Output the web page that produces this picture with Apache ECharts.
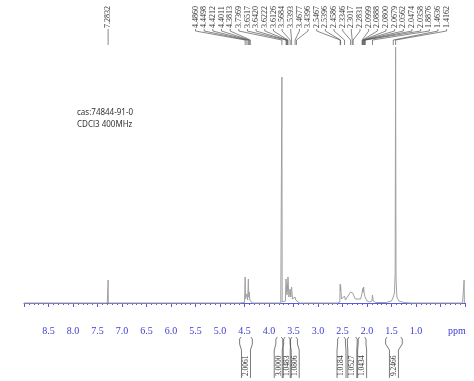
<!DOCTYPE html>
<html><head><meta charset="utf-8">
<script src="https://cdn.jsdelivr.net/npm/echarts@6/dist/echarts.min.js"></script>
<style>html,body{margin:0;padding:0;background:#fff}#c{width:474px;height:381px}</style>
</head><body><div id="c"></div>
<script>
// Spectrum trace (ppm, intensity)
const specPpm = [9.0, 7.30, 7.287, 7.2832, 7.279, 4.60, 4.50, 4.492, 4.486, 4.480, 4.4498, 4.435, 4.4212, 4.412, 4.4011, 4.392, 4.3813, 4.37, 4.34,
  3.76, 3.742, 3.7369, 3.731, 3.70, 3.665, 3.6517, 3.647, 3.6420, 3.632, 3.6222, 3.618, 3.6126, 3.595, 3.5684, 3.555, 3.5393, 3.52, 3.4677, 3.455, 3.4396, 3.42, 3.38,
  2.60, 2.555, 2.5467, 2.543, 2.5396, 2.52, 2.50, 2.4586, 2.44, 2.40, 2.3346, 2.318, 2.3017, 2.292, 2.2831, 2.24, 2.20,
  2.13, 2.0999, 2.094, 2.0888, 2.084, 2.0800, 2.074, 2.0679, 2.062, 2.0562, 2.051, 2.0474, 2.041, 2.0358, 2.00, 1.95, 1.90, 1.8876, 1.875, 1.82,
  1.60, 1.50, 1.4636, 1.44, 1.425, 1.4162, 1.408, 1.39, 1.35, 1.25, 1.10, 0.05, 0.025, 0.018, 0.012, 0.0];
const specInt = [0, 0, 0, 23, 0, 0, 0.5, 2, 26, 4, 9, 3, 24, 6, 11, 3, 5, 1, 0,
  0, 1, 226, 1, 0.5, 2, 24, 10, 18, 8, 20, 12, 26, 6, 14, 6, 16, 4, 6, 3, 5, 1, 0,
  0, 1, 19, 12, 18, 4, 3, 7, 3, 4, 11, 9, 12, 10, 11, 4, 3,
  4, 10, 8, 14, 11, 15, 11, 16, 11, 13, 9, 10, 6, 7, 2, 1, 2, 8, 2, 0.5,
  0.5, 2, 6, 10, 30, 256, 25, 6, 2, 0.5, 0, 0, 0, 23, 0, 0];

// Peak picking labels
const peakLabels = [7.2832, 4.4860, 4.4498, 4.4212, 4.4011, 4.3813, 3.7369, 3.6517, 3.6420, 3.6222, 3.6126, 3.5684, 3.5393, 3.4677, 3.4396,
  2.5467, 2.5396, 2.4586, 2.3346, 2.3017, 2.2831, 2.0999, 2.0888, 2.0800, 2.0679, 2.0562, 2.0474, 2.0358, 1.8876, 1.4636, 1.4162];

// Integrals
const intFrom = [4.60, 3.86, 3.70, 3.56, 2.60, 2.40, 2.18, 1.62];
const intTo   = [4.34, 3.72, 3.57, 3.42, 2.44, 2.20, 2.02, 1.28];
const intVal  = ['2.0061', '3.0000', '1.0483', '1.0806', '1.0184', '1.0527', '1.0434', '9.2466'];

// Axis tick labels
const tickLabels = ['8.5', '8.0', '7.5', '7.0', '6.5', '6.0', '5.5', '5.0', '4.5', '4.0', '3.5', '3.0', '2.5', '2.0', '1.5', '1.0'];
const unitLabel = 'ppm';
const infoLines = ['cas:74844-91-0', 'CDCl3 400MHz'];

const SERIF = '"Liberation Serif", "DejaVu Serif", serif';

function spread(xs, gap) {
  let clusters = xs.map((x, i) => ({ start: x, n: 1, sum: x, idx: [i] }));
  let changed = true;
  while (changed) {
    changed = false;
    for (let i = 0; i < clusters.length - 1; i++) {
      const a = clusters[i], b = clusters[i + 1];
      const aEnd = a.start + (a.n - 1) * gap;
      if (b.start - aEnd < gap) {
        const m = { n: a.n + b.n, sum: a.sum + b.sum, idx: a.idx.concat(b.idx) };
        m.start = m.sum / m.n - (m.n - 1) * gap / 2;
        clusters.splice(i, 2, m); changed = true; break;
      }
    }
  }
  const out = [];
  clusters.forEach(c => c.idx.forEach((id, k) => { out[id] = c.start + k * gap; }));
  return out;
}

const chart = echarts.init(document.getElementById('c'), null, { renderer: 'canvas' });

function renderPeakLabels(params, api) {
  if (params.dataIndex !== 0) return null;
  const sorted = peakLabels.slice().sort((a, b) => b - a);
  const px = sorted.map(p => api.coord([p, 0])[0]);
  const lx = spread(px, 8.66);
  const children = [];
  sorted.forEach((p, i) => {
    children.push({
      type: 'text', x: lx[i], y: 28, rotation: Math.PI / 2,
      style: { text: p.toFixed(4), x: 0, y: 0, align: 'left', verticalAlign: 'middle', font: '8px ' + SERIF, fill: '#333' }
    });
    children.push({
      type: 'polyline',
      shape: { points: [[lx[i], 29], [lx[i], 31], [px[i], 40], [px[i], 45]] },
      style: { stroke: '#555', lineWidth: 0.7, fill: null }
    });
  });
  return { type: 'group', children };
}

function renderIntegrals(params, api) {
  if (params.dataIndex !== 0) return null;
  const n = intFrom.length;
  const xl = intFrom.map(p => api.coord([p, 0])[0]);
  const xr = intTo.map(p => api.coord([p, 0])[0]);
  const centers = xl.map((x, i) => (x + xr[i]) / 2);
  const lc = spread(centers, 8);
  const children = [];
  for (let i = 0; i < n; i++) {
    const c = lc[i];
    children.push({
      type: 'polyline',
      shape: { points: [[xl[i] + 1.5, 337], [xl[i], 339], [xl[i], 344], [c - 4.5, 350], [c - 4.5, 378]] },
      style: { stroke: '#444', lineWidth: 0.7, fill: null }
    });
    children.push({
      type: 'polyline',
      shape: { points: [[xr[i] - 1.5, 337], [xr[i], 339], [xr[i], 344], [c + 4.5, 350], [c + 4.5, 378]] },
      style: { stroke: '#444', lineWidth: 0.7, fill: null }
    });
    children.push({
      type: 'text', x: c, y: 376, rotation: Math.PI / 2,
      style: { text: intVal[i], x: 0, y: 0, align: 'left', verticalAlign: 'middle', font: '7.5px ' + SERIF, fill: '#333' }
    });
  }
  return { type: 'group', children };
}

const option = {
  animation: false,
  backgroundColor: '#fff',
  grid: { left: 24, right: 9, top: 47, bottom: 61, containLabel: false },
  xAxis: {
    type: 'value', min: 0, max: 9, inverse: true, interval: 0.5,
    splitLine: { show: false },
    axisLine: { show: true, lineStyle: { color: '#5a5ae6', width: 1 } },
    axisTick: { show: true, inside: false, length: 4, lineStyle: { color: '#5a5ae6' } },
    minorTick: { show: true, splitNumber: 5, length: 2, lineStyle: { color: '#5a5ae6' } },
    axisLabel: {
      show: true, margin: 6, color: '#3c3cd2', fontFamily: SERIF, fontSize: 10,
      showMinLabel: true, showMaxLabel: true,
      formatter: function (v) {
        if (Math.abs(v) < 1e-9) return '{p|' + unitLabel + '}';
        const s = v.toFixed(1);
        return tickLabels.indexOf(s) >= 0 ? s : '';
      },
      rich: { p: { padding: [0, 16, 0, 0], color: '#3c3cd2', fontFamily: SERIF, fontSize: 10 } }
    }
  },
  yAxis: { type: 'value', min: -17, max: 256, show: false, splitLine: { show: false } },
  series: [
    {
      type: 'line', data: specPpm.map((p, i) => [p, specInt[i]]),
      showSymbol: false, symbol: 'none', lineStyle: { color: '#a0a0a0', width: 1 }, silent: true, z: 2
    },
    { type: 'custom', data: [0], renderItem: renderPeakLabels, clip: false, silent: true, z: 3 },
    { type: 'custom', data: [0], renderItem: renderIntegrals, clip: false, silent: true, z: 3 }
  ],
  graphic: infoLines.map((t, i) => ({
    type: 'text', left: 77, top: 109 + i * 12,
    style: { text: t, font: '8px "Noto Sans", "Open Sans", sans-serif', fill: '#333' }
  }))
};
chart.setOption(option);
</script>
</body></html>
